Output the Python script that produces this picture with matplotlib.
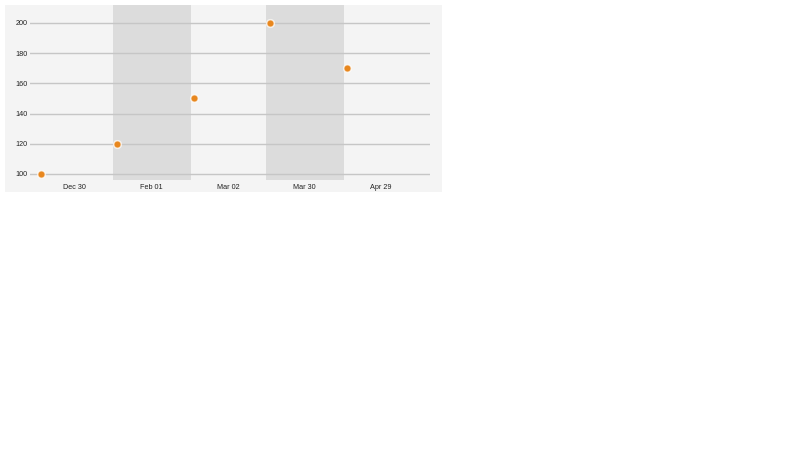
import matplotlib
matplotlib.use("Agg")
import matplotlib.pyplot as plt
import matplotlib.dates as mdates
from matplotlib.patches import Rectangle
from datetime import datetime

plt.rcParams['font.family'] = ['Liberation Sans', 'DejaVu Sans']

# data
point_dates = ["2013-12-16 15:00", "2014-01-15 15:00", "2014-02-14 15:00",
               "2014-03-16 15:00", "2014-04-15 15:00"]
point_values = [100, 120, 150, 200, 170]
band_ranges = [("2014-01-14", "2014-02-13 12:00"), ("2014-03-15", "2014-04-14 12:00")]
tick_dates = ["2013-12-30", "2014-01-29", "2014-02-28", "2014-03-30", "2014-04-29"]
tick_labels = ["Dec 30", "Feb 01", "Mar 02", "Mar 30", "Apr 29"]
y_ticks = [100, 120, 140, 160, 180, 200]


def to_num(s):
    fmt = "%Y-%m-%d %H:%M" if " " in s else "%Y-%m-%d"
    return mdates.date2num(datetime.strptime(s, fmt))


W, H = 800, 450
fig = plt.figure(figsize=(8, 4.5), dpi=100)
fig.patch.set_facecolor("white")

# light panel behind the chart
fig.patches.append(Rectangle((5 / W, 1 - 192 / H), 437 / W, 187 / H,
                             transform=fig.transFigure, facecolor="#f4f4f4",
                             edgecolor="none", zorder=-5))

ax = fig.add_axes([30 / W, 1 - 180 / H, 400 / W, 175 / H])
ax.set_facecolor("none")

x0 = to_num("2013-12-30")
ax.set_xlim(x0 - 17.6, x0 + 139.2)
ax.set_ylim(96.0, 211.9)

for start, end in band_ranges:
    ax.axvspan(to_num(start), to_num(end), color="#dcdcdc", zorder=1, lw=0)

for v in y_ticks:
    ax.axhline(v, color="#c6c6c6", lw=1.0, zorder=2)

xs = [to_num(d) for d in point_dates]
ax.scatter(xs, point_values, s=30, color="#e8871e",
           edgecolor=(1, 1, 1, 0.75), linewidth=1.1, zorder=4, clip_on=False)

ax.set_xticks([to_num(d) for d in tick_dates])
ax.set_xticklabels(tick_labels)
ax.set_yticks(y_ticks)
ax.set_yticklabels([str(v) for v in y_ticks])
ax.tick_params(axis="both", length=0, labelsize=5.2, colors="#222222")
ax.tick_params(axis="x", pad=3)
ax.tick_params(axis="y", pad=2)
for s in ax.spines.values():
    s.set_visible(False)

fig.savefig("out.png", dpi=100)
